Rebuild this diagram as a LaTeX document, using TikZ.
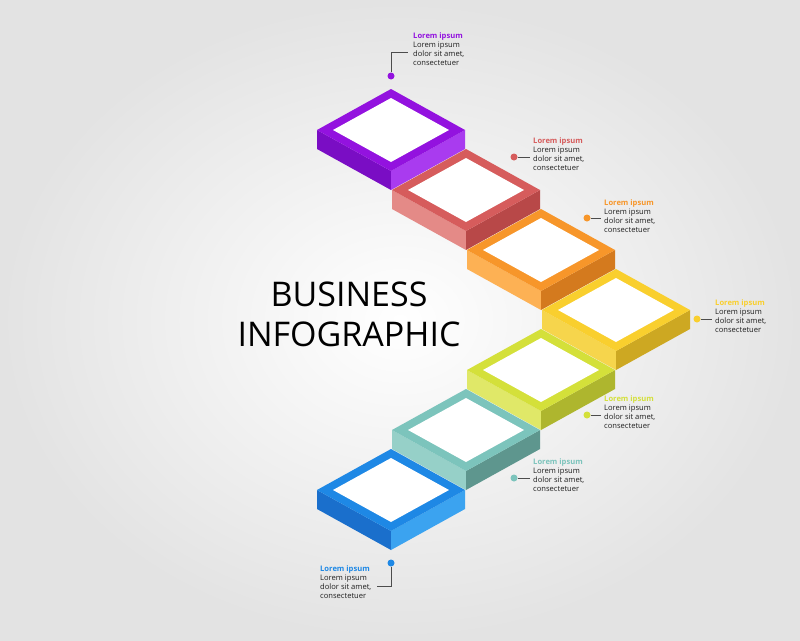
\documentclass[tikz,border=0pt]{standalone}
\usepackage{fontspec}
\setmainfont{Open Sans}
\definecolor{pT}{HTML}{9312DF}\definecolor{pL}{HTML}{7A0DC4}\definecolor{pR}{HTML}{A93BEF}
\definecolor{rT}{HTML}{D65C5C}\definecolor{rL}{HTML}{E48A87}\definecolor{rR}{HTML}{B84848}
\definecolor{oT}{HTML}{F7962A}\definecolor{oL}{HTML}{FDB154}\definecolor{oR}{HTML}{D47A1E}
\definecolor{yT}{HTML}{F9CF2E}\definecolor{yL}{HTML}{F6D54C}\definecolor{yR}{HTML}{CDA822}
\definecolor{lT}{HTML}{D4E03A}\definecolor{lL}{HTML}{E0E868}\definecolor{lR}{HTML}{AEB62E}
\definecolor{tT}{HTML}{7CC4BC}\definecolor{tL}{HTML}{96D0C8}\definecolor{tR}{HTML}{5E968E}
\definecolor{bT}{HTML}{1E88E5}\definecolor{bL}{HTML}{1A6FCC}\definecolor{bR}{HTML}{3BA3F0}
\newcommand\isoblock[5]{%
 \fill[#4] ({#1-74},{#2}) -- ({#1},{#2+41}) -- ({#1},{#2+60}) -- ({#1-74},{#2+19}) -- cycle;
 \fill[#5] ({#1},{#2+41}) -- ({#1+74},{#2}) -- ({#1+74},{#2+19}) -- ({#1},{#2+60}) -- cycle;
 \fill[#3] ({#1},{#2-41}) -- ({#1+74},{#2}) -- ({#1},{#2+41}) -- ({#1-74},{#2}) -- cycle;
 \fill[white] ({#1},{#2-32}) -- ({#1+58},{#2}) -- ({#1},{#2+32}) -- ({#1-58},{#2}) -- cycle;
}
\tikzset{
 lbl/.style={anchor=north west, inner sep=0pt, align=left, font=\fontsize{7.6}{8.8}\selectfont, text=black!88},
 dotnode/.style={circle, inner sep=0pt, minimum size=7pt},
 lead/.style={draw=black!70, line width=0.8pt}
}
\begin{document}
\begin{tikzpicture}[x=1pt,y=-1pt]
\shade[inner color=white, outer color={black!11}] (0,0) rectangle (800,640);
\useasboundingbox (0,0) rectangle (800,640);

\isoblock{391}{130}{pT}{pL}{pR}
\isoblock{466}{190}{rT}{rL}{rR}
\isoblock{541}{250}{oT}{oL}{oR}
\isoblock{616}{310}{yT}{yL}{yR}
\isoblock{541}{370}{lT}{lL}{lR}
\isoblock{466}{430}{tT}{tL}{tR}
\isoblock{391}{490}{bT}{bL}{bR}

\node[align=center, font=\fontsize{34}{40}\selectfont, text=black] (title) at (349,314) {BUSINESS\\INFOGRAPHIC};

% label 1
\node[lbl] (t1) at (413,33) {\textbf{\color{pT}Lorem ipsum}\\Lorem ipsum\\dolor sit amet,\\consectetuer};
\node[dotnode, fill=pT] (d1) at (391,76) {};
\coordinate (e1) at (408,52);
\draw[lead] (d1) |- (e1);
% label 2
\node[lbl] (t2) at (533,138) {\textbf{\color{rT}Lorem ipsum}\\Lorem ipsum\\dolor sit amet,\\consectetuer};
\node[dotnode, fill=rT] (d2) at (514,157) {};
\coordinate (e2) at (530,157);
\draw[lead] (d2) -- (e2);
% label 3
\node[lbl] (t3) at (604,200) {\textbf{\color{oT}Lorem ipsum}\\Lorem ipsum\\dolor sit amet,\\consectetuer};
\node[dotnode, fill=oT] (d3) at (587,218) {};
\coordinate (e3) at (601,218);
\draw[lead] (d3) -- (e3);
% label 4
\node[lbl] (t4) at (715,300) {\textbf{\color{yT}Lorem ipsum}\\Lorem ipsum\\dolor sit amet,\\consectetuer};
\node[dotnode, fill=yT] (d4) at (697,319) {};
\coordinate (e4) at (712,319);
\draw[lead] (d4) -- (e4);
% label 5
\node[lbl] (t5) at (604,396) {\textbf{\color{lT}Lorem ipsum}\\Lorem ipsum\\dolor sit amet,\\consectetuer};
\node[dotnode, fill=lT] (d5) at (587,415) {};
\coordinate (e5) at (601,415);
\draw[lead] (d5) -- (e5);
% label 6
\node[lbl] (t6) at (533,459) {\textbf{\color{tT}Lorem ipsum}\\Lorem ipsum\\dolor sit amet,\\consectetuer};
\node[dotnode, fill=tT] (d6) at (514,478) {};
\coordinate (e6) at (530,478);
\draw[lead] (d6) -- (e6);
% label 7
\node[lbl] (t7) at (320,566) {\textbf{\color{bT}Lorem ipsum}\\Lorem ipsum\\dolor sit amet,\\consectetuer};
\node[dotnode, fill=bT] (d7) at (391,563) {};
\coordinate (e7) at (377,586);
\draw[lead] (d7) |- (e7);
\end{tikzpicture}
\end{document}
